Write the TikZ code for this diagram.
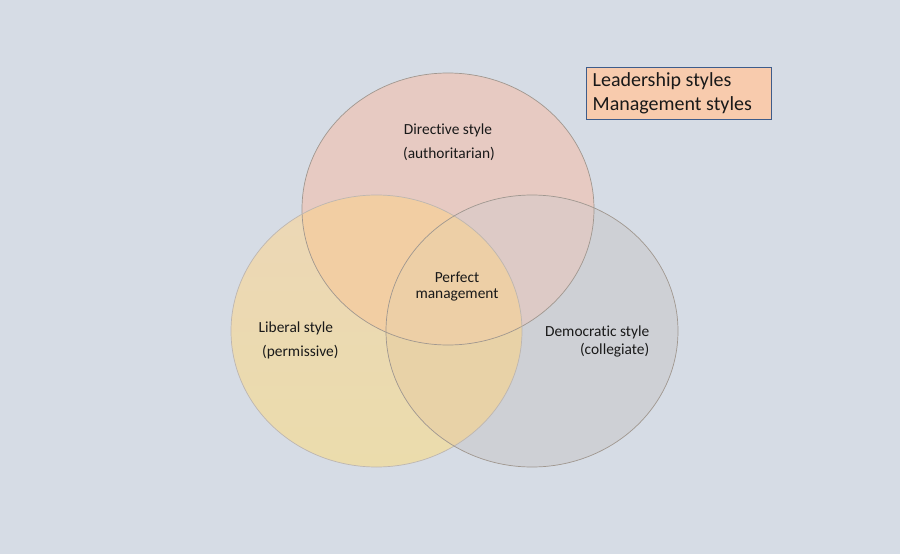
\documentclass[tikz,border=0pt]{standalone}
\usepackage{fontspec}
\setmainfont[Ligatures={NoCommon}]{Carlito}
\definecolor{bg}{HTML}{D6DCE5}
\definecolor{topc}{HTML}{E7CAC2}
\definecolor{lefttop}{HTML}{ECD7B6}
\definecolor{leftbot}{HTML}{EBDCAC}
\definecolor{rightc}{HTML}{CED0D5}
\definecolor{tlc}{HTML}{F2CEA3}
\definecolor{trc}{HTML}{DDCAC6}
\definecolor{lrc}{HTML}{E8D2A7}
\definecolor{cenc}{HTML}{EDCFA6}
\definecolor{edgec}{HTML}{A0978F}
\definecolor{legfill}{HTML}{F8CBAD}
\definecolor{legedge}{HTML}{3E5C8A}
\tikzset{
  lbl/.style={inner sep=0pt, font=\fontsize{15.4}{18}\selectfont, text=black!90},
  leglbl/.style={inner sep=0pt, anchor=west, font=\fontsize{20}{24}\selectfont, text=black!90},
  rim/.style={draw=edgec, line width=0.7pt}
}
\begin{document}
\begin{tikzpicture}[x=1pt,y=-1pt]
\useasboundingbox (0,0) rectangle (900,554);
\fill[bg] (0,0) rectangle (900,554);
% base fills
\fill[topc] (448,209) ellipse [x radius=146pt, y radius=136pt];
\shade[top color=lefttop, bottom color=leftbot] (376.5,331) ellipse [x radius=145.5pt, y radius=136pt];
\fill[rightc] (532,331) ellipse [x radius=146pt, y radius=136pt];
% overlaps
\begin{scope}
  \clip (448,209) ellipse [x radius=146pt, y radius=136pt];
  \fill[tlc] (376.5,331) ellipse [x radius=145.5pt, y radius=136pt];
  \fill[trc] (532,331) ellipse [x radius=146pt, y radius=136pt];
\end{scope}
\begin{scope}
  \clip (376.5,331) ellipse [x radius=145.5pt, y radius=136pt];
  \fill[lrc] (532,331) ellipse [x radius=146pt, y radius=136pt];
  \clip (448,209) ellipse [x radius=146pt, y radius=136pt];
  \fill[cenc] (532,331) ellipse [x radius=146pt, y radius=136pt];
\end{scope}
% rims
\draw[rim] (448,209) ellipse [x radius=146pt, y radius=136pt];
\draw[rim, draw=edgec!70] (376.5,331) ellipse [x radius=145.5pt, y radius=136pt];
\draw[rim] (532,331) ellipse [x radius=146pt, y radius=136pt];
% labels
\node[lbl] (dir1) at (448,130) {Directive style};
\node[lbl] (dir2) at (449,154) {(authoritarian)};
\node[lbl] (per1) at (457,277) {Perfect};
\node[lbl] (per2) at (457,295) {management};
\node[lbl, anchor=west] (lib1) at (258.5,328) {Liberal style};
\node[lbl, anchor=west] (lib2) at (262,352) {(permissive)};
\node[lbl, anchor=east] (dem1) at (649.5,332) {Democratic style};
\node[lbl, anchor=east] (dem2) at (649.5,350) {(collegiate)};
% legend
\draw[fill=legfill, draw=legedge, line width=0.9pt] (586,67) rectangle (771,119);
\node[leglbl] (leg1) at (592.5,81) {Leadership styles};
\node[leglbl] (leg2) at (592.5,105) {Management styles};
\end{tikzpicture}
\end{document}
